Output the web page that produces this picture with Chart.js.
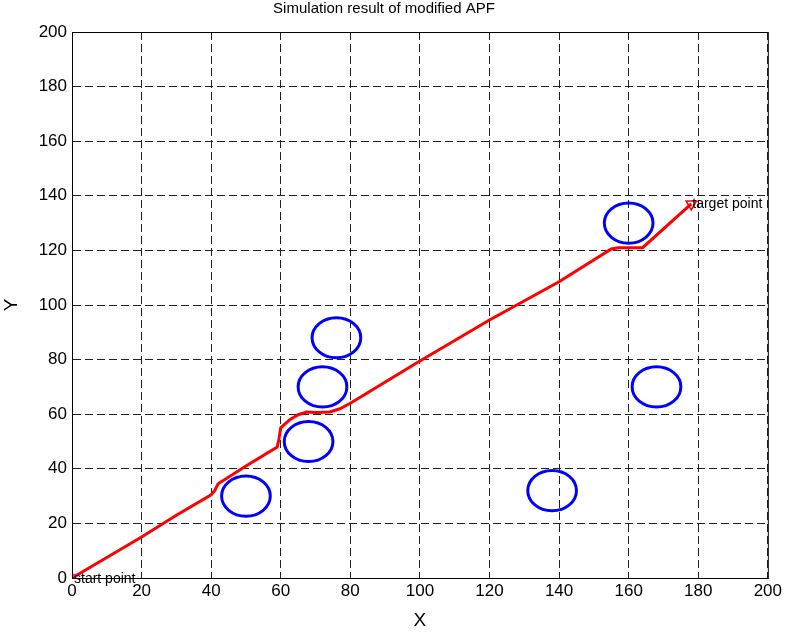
<!DOCTYPE html>
<html><head><meta charset="utf-8">
<script src="https://cdn.jsdelivr.net/npm/chart.js@4"></script>
<style>html,body{margin:0;padding:0;background:#fff}#w{width:785px;height:632px}</style>
</head><body><div id="w"><canvas id="c"></canvas></div>
<script>
const pathX = [0,10,20,30,40,41,42,50,59,59.5,60,62.6,65,67.5,70.4,74.1,77,80,100,120,140,155,157,164,178];
const pathY = [0,7.5,15,23,30.5,32,34.5,41,48,51,55,58,59.8,60.8,60.6,60.8,62,64,79.5,94.5,108.5,120.5,121,121,137];
const obstacleX = [50,68,72,76,138,160,168];
const obstacleY = [30,50,70,88,32,130,70];
const obstacleR = 7;
const tickVals = [0,20,40,60,80,100,120,140,160,180,200];
const startPt = {x:0,y:0,label:'start point'};
const targetPt = {x:178,y:137,label:'target point'};

const pathData = pathX.map((x,i)=>({x,y:pathY[i]}));
const F = 'Liberation Sans, Arial, sans-serif';

const overlay = {
  id:'overlay',
  afterDatasetsDraw(chart){
    const {ctx, chartArea:a, scales:{x,y}} = chart;
    ctx.save();
    ctx.strokeStyle='#0000ff'; ctx.lineWidth=3;
    obstacleX.forEach((ox,i)=>{
      const cx=x.getPixelForValue(ox), cy=y.getPixelForValue(obstacleY[i]);
      const rx=Math.abs(x.getPixelForValue(ox+obstacleR)-cx);
      const ry=Math.abs(y.getPixelForValue(obstacleY[i]+obstacleR)-cy)*1.05;
      ctx.beginPath(); ctx.ellipse(cx,cy,rx,ry,0,0,Math.PI*2); ctx.stroke();
    });
    ctx.fillStyle='#000'; ctx.font='14px '+F; ctx.textBaseline='middle'; ctx.textAlign='left';
    ctx.fillText(startPt.label, x.getPixelForValue(startPt.x)+2, y.getPixelForValue(startPt.y)+1);
    ctx.fillText(targetPt.label, x.getPixelForValue(targetPt.x)+1, y.getPixelForValue(targetPt.y));
    ctx.strokeStyle='#000'; ctx.lineWidth=1;
    ctx.strokeRect(a.left+0.5,a.top+0.5,a.right-a.left,a.bottom-a.top);
    ctx.restore();
  }
};

new Chart(document.getElementById('c'),{
  type:'scatter',
  data:{datasets:[
    {data:pathData, showLine:true, borderColor:'#ff0000', borderWidth:3, pointRadius:0, order:2},
    {data:[{x:startPt.x,y:startPt.y}], pointStyle:'rect', pointRadius:5, borderColor:'#ff00ff', backgroundColor:'rgba(0,0,0,0)', borderWidth:1.5, order:1},
    {data:[{x:targetPt.x,y:targetPt.y}], pointStyle:'triangle', rotation:180, pointRadius:6, borderColor:'#ff0000', backgroundColor:'rgba(0,0,0,0)', borderWidth:1.5, order:1}
  ]},
  options:{
    responsive:true, maintainAspectRatio:false, animation:false,
    layout:{padding:{top:0,right:17,left:0,bottom:0}},
    plugins:{legend:{display:false},tooltip:{enabled:false},
      title:{display:true,text:'Simulation result of modified APF',color:'#000',font:{family:F,size:15,weight:'normal'},padding:{top:0,bottom:14}}},
    scales:{
      x:{type:'linear',min:0,max:200,
        afterBuildTicks(s){s.ticks=tickVals.map(v=>({value:v}));},
        afterFit(s){s.height=54;},
        grid:{color:'#222',lineWidth:1,drawTicks:false},
        border:{display:true,color:'#000',dash:[8,4]},
        ticks:{color:'#000',font:{family:F,size:17},padding:3,maxRotation:0},
        title:{display:true,text:'X',color:'#000',font:{family:F,size:19},padding:{top:2,bottom:0}}},
      y:{type:'linear',min:0,max:200,
        afterBuildTicks(s){s.ticks=tickVals.map(v=>({value:v}));},
        afterFit(s){s.width=72;},
        grid:{color:'#222',lineWidth:1,drawTicks:false},
        border:{display:true,color:'#000',dash:[8,4]},
        ticks:{color:'#000',font:{family:F,size:17},padding:5},
        title:{display:true,text:'Y',color:'#000',font:{family:F,size:19},padding:{top:0,bottom:4}}}
    }
  },
  plugins:[overlay]
});
</script></body></html>
